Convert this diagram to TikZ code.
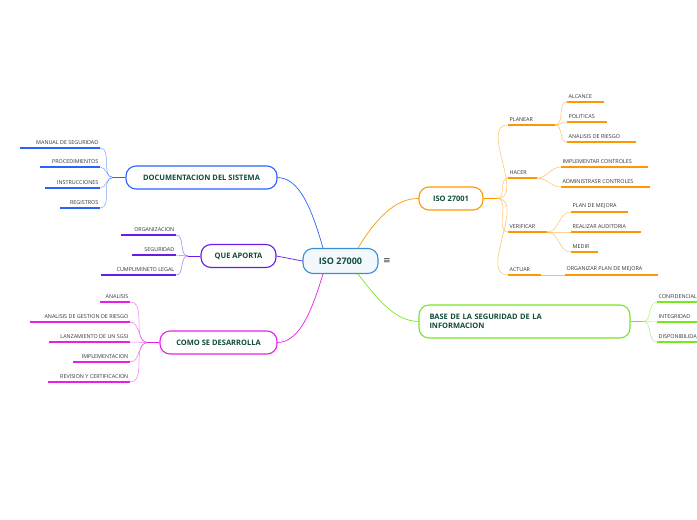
\documentclass[tikz,border=0pt]{standalone}
\usepackage{fontspec}
\setmainfont{Open Sans}
\newfontfamily\symfont{DejaVu Sans}
\definecolor{cblue}{HTML}{2962FF}
\definecolor{cpur}{HTML}{6A1BE8}
\definecolor{cmag}{HTML}{E91EE8}
\definecolor{corg}{HTML}{FF9800}
\definecolor{cgrn}{HTML}{76E81E}
\definecolor{ccen}{HTML}{3A8FD0}
\definecolor{tgrn}{HTML}{114B3C}
\definecolor{tgray}{HTML}{333333}
\tikzset{
 box/.style={draw, rounded corners=10pt, line width=1.1pt, fill=white, text=tgrn, font=\bfseries\fontsize{7.5}{9}\selectfont, minimum height=23pt, inner xsep=8pt},
 leaftext/.style={text=tgray, font=\fontsize{5.4}{6}\selectfont, inner sep=1.5pt},
 leafline/.style={line width=1.3pt},
 conn/.style={line width=0.7pt},
 thin/.style={line width=0.5pt, opacity=0.6}
}
\newcommand\leafR[7]{% name x1 x2 y text color yoff
 \coordinate (#1a) at (#2,#4); \coordinate (#1b) at (#3,#4);
 \draw[leafline,#6] (#1a) -- (#1b);
 \node[leaftext,anchor=south west] (#1) at ([yshift=#7pt]#1a) {#5};}
\newcommand\leafL[7]{%
 \coordinate (#1a) at (#2,#4); \coordinate (#1b) at (#3,#4);
 \draw[leafline,#6] (#1a) -- (#1b);
 \node[leaftext,anchor=south east] (#1) at ([yshift=#7pt]#1b) {#5};}
\begin{document}
\begin{tikzpicture}[x=1pt,y=-1pt]
\useasboundingbox (0,0) rectangle (697,520);
\clip (0,0) rectangle (697,520);
% central
\node[box, draw=ccen, fill=ccen!6, font=\bfseries\fontsize{9}{11}\selectfont, minimum width=75pt, minimum height=25pt] (c) at (340.5,261) {ISO 27000};
\node[text=tgray, font=\symfont\fontsize{9}{10}\selectfont] (menu) at (387,261) {≡};
% branches
\node[box, draw=corg, minimum width=64pt] (iso) at (451,198.5) {ISO 27001};
\node[box, draw=cgrn, minimum width=211pt, minimum height=33pt, align=left, text width=190pt] (base) at (524.5,321.5) {BASE DE LA SEGURIDAD DE LA\\INFORMACION};
\node[box, draw=cblue, minimum width=151pt] (doc) at (201.5,177.5) {DOCUMENTACION DEL SISTEMA};
\node[box, draw=cpur, minimum width=75pt] (que) at (238.5,256) {QUE APORTA};
\node[box, draw=cmag, minimum width=117pt] (como) at (218.5,342.5) {COMO SE DESARROLLA};
% center connectors
\draw[conn,corg] (358,248) .. controls (375,220) and (395,198) .. (iso.west);
\draw[conn,cgrn] (358,274) .. controls (378,300) and (395,321) .. (base.west);
\draw[conn,cblue] (323,248) .. controls (312,210) and (300,178) .. (doc.east);
\draw[conn,cpur] (c.west) -- (que.east);
\draw[conn,cmag] (323,274) .. controls (312,310) and (300,342) .. (como.east);
% ISO 27001 children
\coordinate (jo) at (497,198.5);
\draw[conn,corg] (iso.east) -- (jo);
\leafR{pl}{508}{555}{125}{PLANEAR}{corg}{2}
\leafR{ha}{508}{537}{178}{HACER}{corg}{2}
\leafR{ve}{508}{547}{232}{VERIFICAR}{corg}{2}
\leafR{ac}{508}{541}{275}{ACTUAR}{corg}{2}
\foreach \n in {pl,ha,ve,ac} \draw[thin,corg] (jo) to[out=0,in=180] (\n a);
\leafR{al}{567}{604}{102}{ALCANCE}{corg}{2}
\leafR{po}{567}{607}{122}{POLITICAS}{corg}{2}
\leafR{ar}{567}{636}{142}{ANALISIS DE RIESGO}{corg}{2}
\foreach \n in {al,po,ar} \draw[thin,corg] (plb) to[out=0,in=180] (\n a);
\leafR{ic}{561}{648}{167}{IMPLEMENTAR CONTROLES}{corg}{2}
\leafR{adm}{561}{650}{187}{ADMINISTRASR CONTROLES}{corg}{2}
\foreach \n in {ic,adm} \draw[thin,corg] (hab) to[out=0,in=180] (\n a);
\leafR{pm}{571}{628}{212}{PLAN DE MEJORA}{corg}{2}
\leafR{ra}{571}{641}{232}{REALIZAR AUDITORIA}{corg}{2}
\leafR{me}{571}{598}{252}{MEDIR}{corg}{2}
\foreach \n in {pm,ra,me} \draw[thin,corg] (veb) to[out=0,in=180] (\n a);
\leafR{op}{565}{658}{275}{ORGANIZAR PLAN DE MEJORA}{corg}{2}
\draw[thin,corg] (acb) -- (opa);
% BASE children
\coordinate (jg) at (643,321.5);
\draw[conn,cgrn] (base.east) -- (jg);
\leafR{cf}{657}{710}{302}{CONFIDENCIALIDAD}{cgrn}{2}
\leafR{ig}{657}{710}{322}{INTEGRIDAD}{cgrn}{2}
\leafR{di}{657}{710}{342}{DISPONIBILIDAD}{cgrn}{2}
\foreach \n in {cf,ig,di} \draw[thin,cgrn] (jg) to[out=0,in=180] (\n a);
% DOC children
\coordinate (jb) at (113,177.5);
\draw[conn,cblue] (doc.west) -- (jb);
\leafL{ms}{20}{100}{148}{MANUAL DE SEGURIDAD}{cblue}{2}
\leafL{pr}{40}{100}{167}{PROCEDIMIENTOS}{cblue}{2}
\leafL{in}{45}{100}{188}{INSTRUCCIONES}{cblue}{2}
\leafL{re}{60}{100}{208}{REGISTROS}{cblue}{2}
\foreach \n in {ms,pr,in,re} \draw[thin,cblue] (jb) to[out=180,in=0] (\n b);
% QUE APORTA children
\coordinate (jp) at (188,256);
\draw[conn,cpur] (que.west) -- (jp);
\leafL{or}{121}{176}{235}{ORGANIZACION}{cpur}{2}
\leafL{se}{132}{176}{255}{SEGURIDAD}{cpur}{2}
\leafL{cl}{101}{176}{275}{CUMPLIMINETO LEGAL}{cpur}{2}
\foreach \n in {or,se,cl} \draw[thin,cpur] (jp) to[out=180,in=0] (\n b);
% COMO children
\coordinate (jm) at (148,342.5);
\draw[conn,cmag] (como.west) -- (jm);
\leafL{an}{100}{130}{302}{ANALISIS}{cmag}{2}
\leafL{ag}{30}{130}{322}{ANALISIS DE GESTION DE RIESGO}{cmag}{2}
\leafL{la}{49}{130}{342}{LANZAMIENTO DE UN SGSI}{cmag}{2}
\leafL{im}{73}{130}{362}{IMPLEMENTACION}{cmag}{2}
\leafL{rc}{48}{130}{382}{REVISION Y CERTIFICACION}{cmag}{2}
\foreach \n in {an,ag,la,im,rc} \draw[thin,cmag] (jm) to[out=180,in=0] (\n b);
\end{tikzpicture}
\end{document}
